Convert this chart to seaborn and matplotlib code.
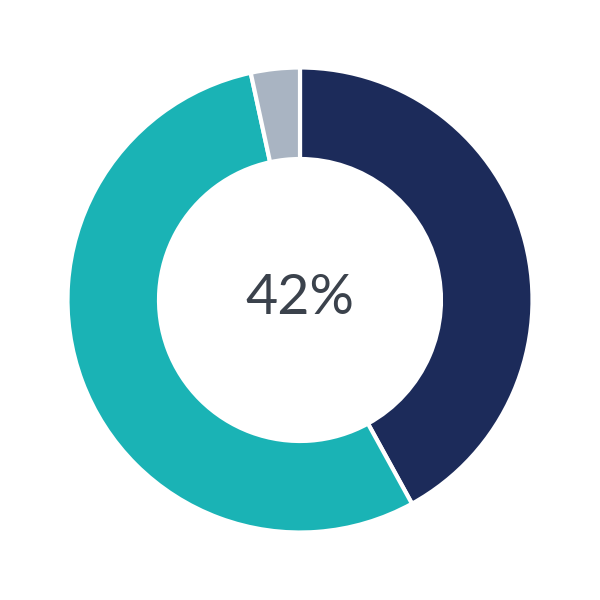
import matplotlib
matplotlib.use("Agg")
import matplotlib.pyplot as plt
import seaborn as sns

# slice data
labels = ["Navy", "Teal", "Grey"]
values = [42, 54.6, 3.4]
colors = ["#1c2b5a", "#1ab3b5", "#a9b4c2"]
center_text = "42%"

sns.set_theme(style="white")
plt.rcParams['font.family'] = ['Lato', 'DejaVu Sans']

fig, ax = plt.subplots(figsize=(6, 6), dpi=100)
fig.subplots_adjust(left=0, right=1, bottom=0, top=1)

ax.pie(values, colors=colors, startangle=90, counterclock=False,
       radius=0.775,
       wedgeprops=dict(width=0.305, edgecolor="white", linewidth=3))
ax.text(0, 0.005, center_text, ha="center", va="center",
        fontsize=40, color="#3b424c", fontweight="normal")

ax.set_xlim(-1, 1)
ax.set_ylim(-1, 1)
ax.set_aspect("equal")
ax.axis("off")

fig.savefig("out.png", dpi=100, facecolor="white")
